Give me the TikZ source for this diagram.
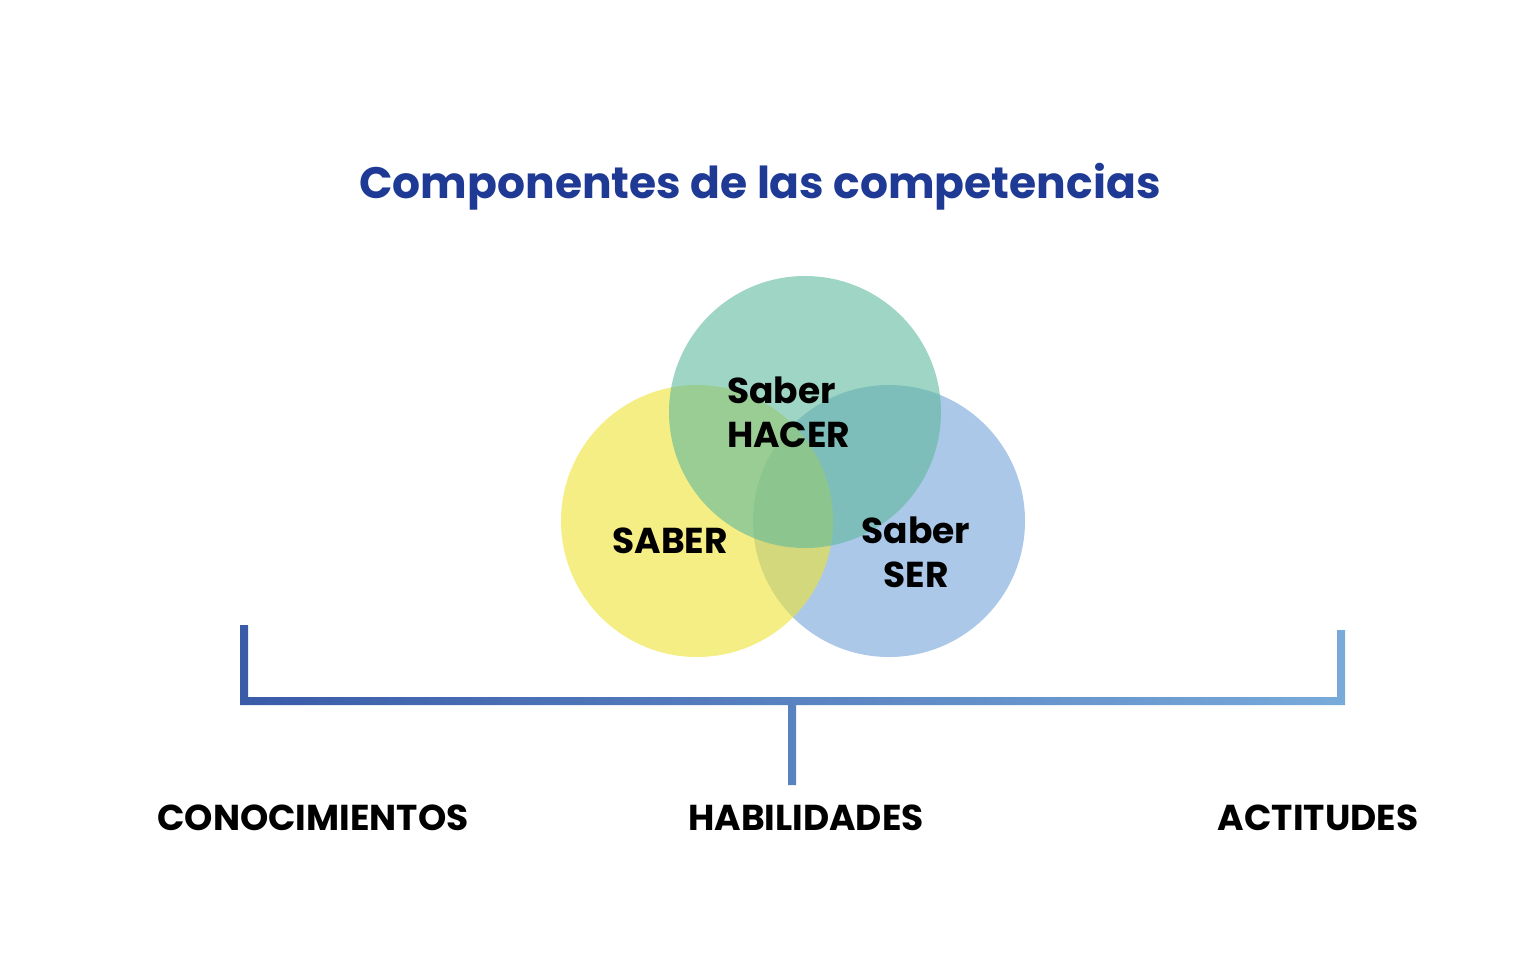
\documentclass[tikz,border=0pt]{standalone}
\usepackage{fontspec}
\setmainfont{Poppins}
\usetikzlibrary{positioning}
\definecolor{titleblue}{RGB}{30,58,148}
\definecolor{yellowc}{RGB}{238,227,52}
\definecolor{greenc}{RGB}{95,185,157}
\definecolor{bluec}{RGB}{115,163,217}
\definecolor{brackl}{RGB}{58,91,168}
\definecolor{brackr}{RGB}{120,170,218}
\tikzset{
	every node/.style={font=\bfseries\fontsize{18}{22}\selectfont},
	area/.style={
		circle,
		minimum size=136pt,
		inner sep=0pt,
		fill opacity=0.6,
	},
	comp/.style={
		anchor=base,
	},
	heading/.style={
		font=\bfseries\fontsize{22}{26}\selectfont,
		text=titleblue,
	},
}

\begin{document}
\begin{tikzpicture}[x=0.5pt,y=-0.5pt]
	\useasboundingbox (0,0) rectangle (1536,960);

	\node[heading, anchor=base] (title) at (760,198) {Componentes de las competencias};

	% circles
	\node[area, fill=bluec]   (ser)   at (889,521) {};
	\node[area, fill=yellowc] (saber) at (697,521) {};
	\node[area, fill=greenc]  (hacer) at (805,412) {};

	\node[comp] (saberlbl) at (670,553) {SABER};
	\node[comp, align=left, anchor=base west] (hacerlbl) at (720,447) {Saber\\HACER};
	\node[comp, align=center] (serlbl) at (916,587) {Saber\\SER};

	% bracket
	\shade[left color=brackl, right color=brackr]
		(240,625) -- (248,625) -- (248,697) -- (1337,697) -- (1337,630) -- (1345,630)
		-- (1345,705) -- (796,705) -- (796,785) -- (788,785) -- (788,705) -- (240,705) -- cycle;

	\node[comp] (conoc) at (313,830) {CONOCIMIENTOS};
	\node[comp] (habil) at (806,830) {HABILIDADES};
	\node[comp] (actit) at (1318,830) {ACTITUDES};
\end{tikzpicture}
\end{document}
